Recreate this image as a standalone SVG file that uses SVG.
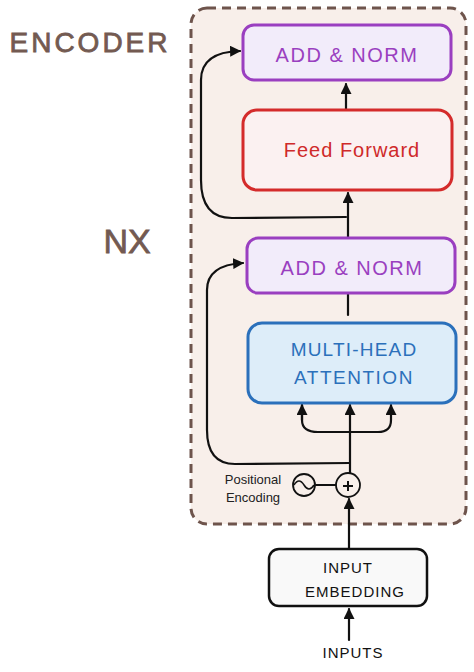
<svg xmlns="http://www.w3.org/2000/svg" width="474" height="672" viewBox="0 0 474 672">
<style>
text{font-family:"Liberation Sans","DejaVu Sans",sans-serif;text-anchor:middle}
.conn{fill:none;stroke:#111;stroke-width:2.2;stroke-linecap:round}
.an rect{fill:#f2ecfa;stroke:#9a3fc0;stroke-width:3}
.an text{fill:#9a3fc0;font-size:20px;letter-spacing:1.5px}
</style>
<defs>
<marker id="ah" viewBox="0 0 10 10" refX="9" refY="5" markerWidth="5" markerHeight="5" orient="auto" markerUnits="strokeWidth">
<path d="M0,0 L10,5 L0,10 z" fill="#111"/>
</marker>
</defs>
<rect width="474" height="672" fill="#ffffff"/>
<g id="container">
<rect x="191" y="8" width="275" height="516" rx="16" fill="#f8efea" stroke="#6e544c" stroke-width="3" stroke-dasharray="9,6"/>
</g>
<g id="label-encoder"><text x="90" y="52" font-size="28" fill="#735a51" stroke="#735a51" stroke-width="0.8" letter-spacing="3">ENCODER</text></g>
<g id="label-nx"><text x="127" y="253" font-size="34" fill="#735a51" stroke="#735a51" stroke-width="0.8">NX</text></g>
<g id="connectors">
<path class="conn" d="M346,110 L346,84" marker-end="url(#ah)"/>
<path class="conn" d="M348,238 L348,193" marker-end="url(#ah)"/>
<path class="conn" d="M346,217 L232,218 Q201,218 201,180 L201,80 Q201,52 240,51" marker-end="url(#ah)"/>
<path class="conn" d="M348,294 L348,315"/>
<path class="conn" d="M350,473 L350,405" marker-end="url(#ah)"/>
<path class="conn" d="M302,405 L302,420 Q302,432 318,432 L378,432 Q391,432 391,420 L391,405" marker-end="url(#ah)"/>
<path class="conn" d="M302,420 L302,405" marker-end="url(#ah)"/>
<path class="conn" d="M350,463 L235,464 Q207,464 207,430 L207,290 Q207,265 243,263" marker-end="url(#ah)"/>
<path class="conn" d="M316,485 L336,485"/>
<path class="conn" d="M349,548 L349,499" marker-end="url(#ah)"/>
<path class="conn" d="M349,640 L349,609" marker-end="url(#ah)"/>
</g>
<g id="addnorm-top" class="an">
<rect x="243" y="25" width="208" height="55" rx="11"/>
<text x="347" y="62">ADD &amp; NORM</text>
</g>
<g id="feed-forward">
<rect x="243" y="110" width="209" height="80" rx="14" fill="#fbf1f1" stroke="#d42b2b" stroke-width="3"/>
<text x="352" y="157" font-size="20" fill="#cf2a2a" letter-spacing="1">Feed Forward</text>
</g>
<g id="addnorm-mid" class="an">
<rect x="247" y="238" width="208" height="55" rx="11"/>
<text x="352" y="275">ADD &amp; NORM</text>
</g>
<g id="mha">
<rect x="248" y="323" width="208" height="80" rx="14" fill="#ddedf9" stroke="#2b70bb" stroke-width="3"/>
<text x="354" y="356" font-size="19" fill="#2b70bb" letter-spacing="1.2">MULTI-HEAD</text>
<text x="354" y="384" font-size="19" fill="#2b70bb" letter-spacing="1.5">ATTENTION</text>
</g>
<g id="pos-enc">
<circle cx="304" cy="485" r="11" fill="#f8efea" stroke="#111" stroke-width="1.8"/>
<path d="M294,485 Q299,477 304,485 T314,485" fill="none" stroke="#111" stroke-width="1.5"/>
<text x="253" y="484" font-size="13" fill="#222">Positional</text>
<text x="253" y="502" font-size="13" fill="#222">Encoding</text>
</g>
<g id="plus">
<circle cx="348" cy="485" r="12" fill="#f8efea" stroke="#111" stroke-width="1.8"/>
<path d="M343,486 L353,486 M348,481 L348,491" stroke="#111" stroke-width="2"/>
</g>
<g id="input-embedding">
<rect x="269" y="549" width="158" height="57" rx="10" fill="#f9f9f9" stroke="#111" stroke-width="2.5"/>
<text x="348" y="573" font-size="15" fill="#111" letter-spacing="1">INPUT</text>
<text x="355" y="597" font-size="15" fill="#111" letter-spacing="1">EMBEDDING</text>
</g>
<g id="inputs"><text x="353" y="658" font-size="15" fill="#111" letter-spacing="1">INPUTS</text></g>
</svg>
